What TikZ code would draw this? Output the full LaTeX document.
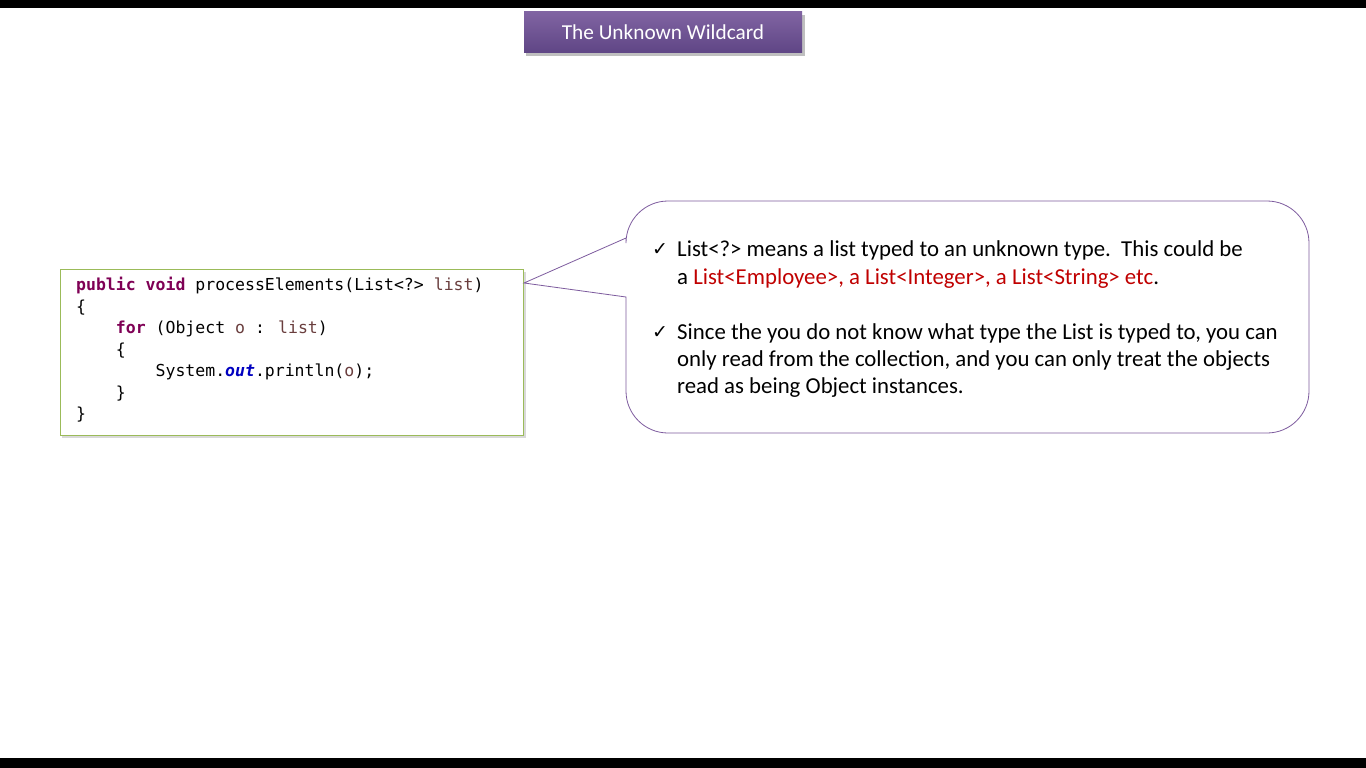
\documentclass[tikz,border=0pt]{standalone}
\usepackage{fontspec}
\setmainfont{Carlito}
\newfontfamily\codefont{DejaVu Sans Mono}
\newfontfamily\symfont{DejaVu Sans}
\definecolor{kw}{HTML}{7F0055}
\definecolor{var}{HTML}{6A3E3E}
\definecolor{fld}{HTML}{0000C0}
\definecolor{red2}{HTML}{C00000}
\definecolor{ttl1}{HTML}{8064A2}
\definecolor{ttl2}{HTML}{5F4585}
\definecolor{callb}{HTML}{7D5B9E}
\definecolor{codeb}{HTML}{9BBB59}
\begin{document}
\begin{tikzpicture}[x=1pt,y=-1pt,
  code/.style={anchor=base west,inner sep=0pt,font=\codefont\fontsize{16.5}{19}\selectfont},
  txt/.style={anchor=base west,inner sep=0pt,font=\fontsize{22.8}{26}\selectfont},
  chk/.style={anchor=base west,inner sep=0pt,font=\symfont\fontsize{19}{22}\selectfont}]
\useasboundingbox (0,0) rectangle (1366,768);
\fill[white] (0,0) rectangle (1366,768);
\fill[black] (0,0) rectangle (1366,8);
\fill[black] (0,758) rectangle (1366,768);
% title
\fill[black!25] (526,15) rectangle (805,56);
\shade[top color=ttl1,bottom color=ttl2] (524,12) rectangle (802,53);
\node[text=white,font=\fontsize{21.3}{24}\selectfont] (title) at (663,32) {The Unknown Wildcard};
% code box
\fill[black!15] (62,272) rectangle (526,438);
\draw[codeb,fill=white,line width=1pt] (60,269) rectangle (523,435);
\node[code] (c1) at (76,290) {\textbf{\color{kw}public void} processElements(List<?> \color{var}list\color{black}{})};
\node[code] (c2) at (76,312) {\{};
\node[code] (c3) at (76,333) {\phantom{1234}\textbf{\color{kw}for} (Object \textcolor{var}{o} : \textcolor{var}{list})};
\node[code] (c4) at (76,355) {\phantom{1234}\{};
\node[code] (c5) at (76,376) {\phantom{12345678}System.\textit{\textbf{\color{fld}out}}.println(\textcolor{var}{o});};
\node[code] (c6) at (76,398) {\phantom{1234}\}};
\node[code] (c7) at (76,419) {\}};
% callout
\coordinate (tip) at (524,283);
\draw[callb,line width=0.8pt,fill=white] (626,297) [rounded corners=42pt] -- (626,433) -- (1309,433) -- (1309,201) -- (626,201) [sharp corners] -- (626,238) -- (tip) -- cycle;
\node[chk] (k1) at (652,255) {✓};
\node[txt] (t1) at (677,256) {List<?> means a list typed to an unknown type.\ \ This could be};
\node[txt] (t2) at (677,284) {a \textcolor{red2}{List<Employee>, a List<Integer>, a List<String> etc}.};
\node[chk] (k2) at (652,338) {✓};
\node[txt] (t3) at (677,339) {Since the you do not know what type the List is typed to, you can};
\node[txt] (t4) at (677,366) {only read from the collection, and you can only treat the objects};
\node[txt] (t5) at (677,393) {read as being Object instances.};
\end{tikzpicture}
\end{document}
